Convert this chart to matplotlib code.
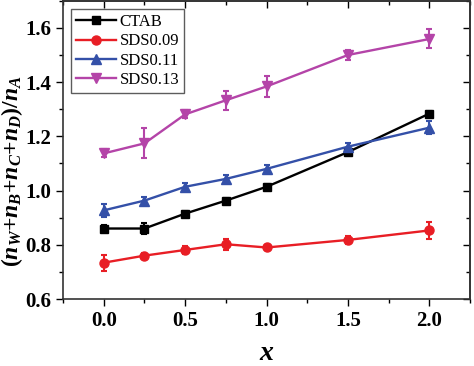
import matplotlib
matplotlib.use("Agg")
import matplotlib.pyplot as plt
from matplotlib.ticker import MultipleLocator

x = [0.0, 0.25, 0.5, 0.75, 1.0, 1.5, 2.0]
labels = ["CTAB", "SDS0.09", "SDS0.11", "SDS0.13"]
ctab = [0.860, 0.860, 0.915, 0.963, 1.014, 1.142, 1.284]
ctab_err = [0.012, 0.022, 0.010, 0.010, 0.010, 0.010, 0.010]
sds09 = [0.734, 0.760, 0.781, 0.802, 0.790, 0.818, 0.853]
sds09_err = [0.030, 0.010, 0.015, 0.020, 0.010, 0.015, 0.030]
sds11 = [0.927, 0.963, 1.014, 1.043, 1.080, 1.162, 1.232]
sds11_err = [0.025, 0.015, 0.015, 0.015, 0.015, 0.015, 0.025]
sds13 = [1.137, 1.174, 1.281, 1.333, 1.384, 1.500, 1.559]
sds13_err = [0.015, 0.055, 0.015, 0.035, 0.040, 0.020, 0.035]

plt.rcParams['font.family'] = ['Liberation Serif', 'DejaVu Serif']
plt.rcParams['mathtext.fontset'] = 'custom'
plt.rcParams['mathtext.rm'] = 'Liberation Serif:bold'
plt.rcParams['mathtext.it'] = 'Liberation Serif:italic:bold'
plt.rcParams['mathtext.bf'] = 'Liberation Serif:bold'

fig = plt.figure(figsize=(4.74, 3.66), dpi=100)
ax = fig.add_axes([0.133, 0.183, 0.859, 0.815])

series = [
    (ctab, ctab_err, 'black', 's', 5.5),
    (sds09, sds09_err, '#e81e25', 'o', 6.5),
    (sds11, sds11_err, '#3450a8', '^', 6.5),
    (sds13, sds13_err, '#b444a8', 'v', 6.5),
]
handles = []
for (y, e, c, m, ms), lab in zip(series, labels):
    cont = ax.errorbar(x, y, yerr=e, color=c, marker=m, markersize=ms, lw=1.7,
                       elinewidth=1.5, capsize=2.5, capthick=1.5, label=lab)
    handles.append(cont[0])

ax.set_xlim(-0.25, 2.25)
ax.set_ylim(0.6, 1.7)
ax.xaxis.set_major_locator(MultipleLocator(0.5))
ax.xaxis.set_minor_locator(MultipleLocator(0.25))
ax.set_yticks([0.6, 0.8, 1.0, 1.2, 1.4, 1.6])
ax.yaxis.set_minor_locator(MultipleLocator(0.1))
ax.tick_params(which='both', direction='out', top=False, right=False, width=1)
ax.tick_params(which='major', length=5, labelsize=15)
ax.tick_params(which='minor', length=3)
for lab in ax.get_xticklabels() + ax.get_yticklabels():
    lab.set_fontweight('bold')
for s in ax.spines.values():
    s.set_linewidth(1.2)
    s.set_color('#333333')

# mirrored inward ticks on top and right
secx = ax.secondary_xaxis('top')
secx.xaxis.set_major_locator(MultipleLocator(0.5))
secx.xaxis.set_minor_locator(MultipleLocator(0.25))
secx.tick_params(which='both', direction='in', labeltop=False, width=1)
secx.tick_params(which='major', length=5)
secx.tick_params(which='minor', length=3)
secy = ax.secondary_yaxis('right')
secy.set_yticks([0.6, 0.8, 1.0, 1.2, 1.4, 1.6])
secy.yaxis.set_minor_locator(MultipleLocator(0.1))
secy.tick_params(which='both', direction='in', labelright=False, width=1)
secy.tick_params(which='major', length=5)
secy.tick_params(which='minor', length=3)
for sa in (secx, secy):
    for s in sa.spines.values():
        s.set_linewidth(1.2)
        s.set_color('#333333')

ax.set_xlabel(r'$x$', fontsize=20, labelpad=7)
ax.set_ylabel(r'$\mathrm{(}n_W\mathrm{+}n_B\mathrm{+}n_C\mathrm{+}n_D\mathrm{)/}n_A$',
              fontsize=17)
ax.yaxis.set_label_coords(-0.093, 0.43)

leg = ax.legend(handles, labels, loc='upper left', fontsize=12, frameon=True,
                fancybox=False, edgecolor='#333333', handlelength=2.4,
                borderpad=0.3, labelspacing=0.2, handletextpad=0.2,
                borderaxespad=0.5)
leg.get_frame().set_linewidth(1.0)

fig.savefig('out.png', dpi=100)
